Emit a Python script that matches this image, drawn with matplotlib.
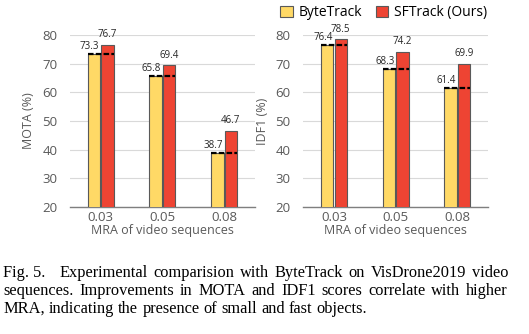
import matplotlib
matplotlib.use("Agg")
import matplotlib.pyplot as plt
from matplotlib.patches import Patch
import numpy as np

mra = ["0.03", "0.05", "0.08"]
mota_byte = [73.3, 65.8, 38.7]
mota_sf = [76.7, 69.4, 46.7]
idf1_byte = [76.4, 68.3, 61.4]
idf1_sf = [78.5, 74.2, 69.9]

caption = [
    "Experimental comparision with ByteTrack on VisDrone2019 video",
    "sequences. Improvements in MOTA and IDF1 scores correlate with higher",
    "MRA, indicating the presence of small and fast objects.",
]

YELLOW = "#FFD966"
RED = "#EE4433"
EDGE = "#595959"
GRAY = "#595959"

plt.rcParams["font.family"] = ["Open Sans", "DejaVu Sans"]

fig = plt.figure(figsize=(5.29, 3.34), dpi=100)
ax1 = fig.add_axes([0.132, 0.380, 0.350, 0.515])
ax2 = fig.add_axes([0.573, 0.380, 0.350, 0.515])

x = np.arange(len(mra))
w = 0.2
off = 0.11


def draw(ax, base, ours, ylabel):
    ax.bar(x - off, base, w, color=YELLOW, edgecolor=EDGE, linewidth=0.8, zorder=3)
    ax.bar(x + off, ours, w, color=RED, edgecolor=EDGE, linewidth=0.8, zorder=3)
    for i in range(len(x)):
        ax.plot([x[i] - off - w / 2, x[i] + off + w / 2], [base[i], base[i]],
                color="black", linestyle=(0, (2.5, 1)), linewidth=1.6, zorder=4)
        ax.annotate(f"{base[i]:.1f}", (x[i] - off, base[i]), xytext=(-3, 1.5),
                    textcoords="offset points", ha="center", va="bottom",
                    fontsize=7, color="#262626", annotation_clip=False)
        ax.annotate(f"{ours[i]:.1f}", (x[i] + off, ours[i]), xytext=(0, 3.5),
                    textcoords="offset points", ha="center", va="bottom",
                    fontsize=7, color="#262626", annotation_clip=False)
    ax.set_xlim(-0.5, 2.5)
    ax.set_ylim(20, 80)
    ax.set_yticks(np.arange(20, 81, 10))
    ax.set_xticks(x)
    ax.set_xticklabels(mra)
    ax.yaxis.grid(True, color="#d9d9d9", linewidth=0.8, zorder=0)
    ax.set_axisbelow(True)
    for s in ["top", "right", "left"]:
        ax.spines[s].set_visible(False)
    ax.spines["bottom"].set_color("#7f7f7f")
    ax.spines["bottom"].set_linewidth(1.0)
    ax.tick_params(length=0, labelsize=9.5, colors=GRAY)
    ax.tick_params(axis="y", pad=9)
    ax.tick_params(axis="x", pad=3)
    ax.set_ylabel(ylabel, fontsize=9, color=GRAY, labelpad=5)
    ax.set_xlabel("MRA of video sequences", fontsize=9, color=GRAY, labelpad=0)


draw(ax1, mota_byte, mota_sf, "MOTA (%)")
draw(ax2, idf1_byte, idf1_sf, "IDF1 (%)")

handles = [Patch(facecolor=YELLOW, edgecolor=EDGE, linewidth=0.8, label="ByteTrack"),
           Patch(facecolor=RED, edgecolor=EDGE, linewidth=0.8, label="SFTrack (Ours)")]
fig.legend(handles=handles, loc="center", bbox_to_anchor=(0.725, 0.962), ncol=2,
           frameon=False, fontsize=10, handlelength=0.9, handleheight=0.9,
           handletextpad=0.4, columnspacing=1.0, borderaxespad=0)

# caption, justified by hand word by word
renderer = fig.canvas.get_renderer()
W, H = fig.get_size_inches() * fig.dpi
left, right = 3, 508
cap_kw = dict(family="Liberation Serif", fontsize=11.8, color="black", va="baseline")
base_y = [277, 295, 313]


def place_words(words, x0, x1, y, justify):
    texts = [fig.text(0, 1 - y / H, wd, **cap_kw) for wd in words]
    widths = [t.get_window_extent(renderer).width for t in texts]
    space = fig.text(0, 0, "a b", **cap_kw)
    sw = space.get_window_extent(renderer).width
    sa = fig.text(0, 0, "ab", **cap_kw)
    sw -= sa.get_window_extent(renderer).width
    space.remove()
    sa.remove()
    if justify and len(words) > 1:
        gap = (x1 - x0 - sum(widths)) / (len(words) - 1)
    else:
        gap = sw
    pos = x0
    for t, wd in zip(texts, widths):
        t.set_x(pos / W)
        pos += wd + gap


fig_label = fig.text(left / W, 1 - base_y[0] / H, "Fig. 5.", **cap_kw)
lw = fig_label.get_window_extent(renderer).width
place_words(caption[0].split(), left + lw + 14, right, base_y[0], True)
place_words(caption[1].split(), left, right, base_y[1], True)
place_words(caption[2].split(), left, right, base_y[2], False)

fig.savefig("out.png", dpi=100)
